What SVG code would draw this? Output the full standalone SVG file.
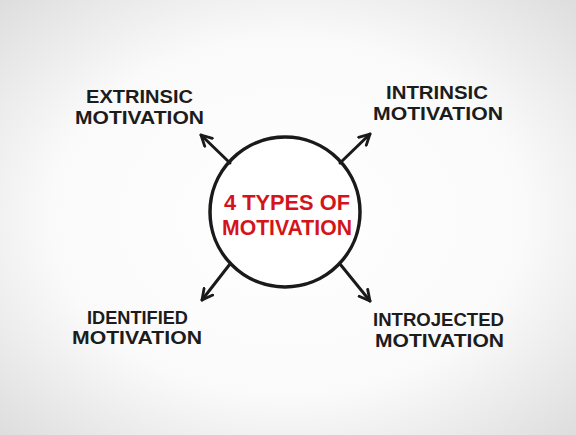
<svg xmlns="http://www.w3.org/2000/svg" width="576" height="435" viewBox="0 0 576 435">
<defs>
<radialGradient id="bg" cx="0.5" cy="0.5" r="0.75">
<stop offset="0" stop-color="#ffffff"/>
<stop offset="0.55" stop-color="#fafafa"/>
<stop offset="1" stop-color="#d9d9d9"/>
</radialGradient>
<marker id="ah" viewBox="0 0 14 14" refX="12" refY="7" markerWidth="14" markerHeight="14" markerUnits="userSpaceOnUse" orient="auto">
<path d="M1.5,1.5 L12,7 L1.5,12.5" fill="none" stroke="#1a1a1a" stroke-width="2.8" stroke-linecap="round" stroke-linejoin="round"/>
</marker>
<style>
.lbl{font-family:"Liberation Sans",Arial,sans-serif;font-weight:bold;font-size:18px;fill:#1c1c1c}
.ctr{font-family:"Liberation Sans",Arial,sans-serif;font-weight:bold;font-size:21.5px;fill:#d3151b}
.con{stroke:#1a1a1a;stroke-width:3;fill:none;stroke-linecap:round;marker-end:url(#ah)}
</style>
</defs>
<rect width="576" height="435" fill="url(#bg)"/>
<g id="center">
<circle cx="285" cy="212" r="75" fill="#ffffff" stroke="#1a1a1a" stroke-width="3.5"/>
<text class="ctr" x="224" y="210" textLength="126" lengthAdjust="spacingAndGlyphs">4 TYPES OF</text>
<text class="ctr" x="222" y="234.5" textLength="130" lengthAdjust="spacingAndGlyphs">MOTIVATION</text>
</g>
<g id="connectors">
<line class="con" x1="230" y1="163" x2="201" y2="135"/>
<line class="con" x1="340" y1="163" x2="370" y2="134"/>
<line class="con" x1="230" y1="264" x2="202" y2="300"/>
<line class="con" x1="340" y1="264" x2="370" y2="301"/>
</g>
<g id="extrinsic">
<text class="lbl" x="86" y="103" textLength="107" lengthAdjust="spacingAndGlyphs">EXTRINSIC</text>
<text class="lbl" x="75" y="123.5" textLength="129" lengthAdjust="spacingAndGlyphs">MOTIVATION</text>
</g>
<g id="intrinsic">
<text class="lbl" x="386" y="99" textLength="102" lengthAdjust="spacingAndGlyphs">INTRINSIC</text>
<text class="lbl" x="373" y="120" textLength="130" lengthAdjust="spacingAndGlyphs">MOTIVATION</text>
</g>
<g id="identified">
<text class="lbl" x="87" y="323.5" textLength="101" lengthAdjust="spacingAndGlyphs">IDENTIFIED</text>
<text class="lbl" x="72" y="344" textLength="130" lengthAdjust="spacingAndGlyphs">MOTIVATION</text>
</g>
<g id="introjected">
<text class="lbl" x="373" y="325.5" textLength="131" lengthAdjust="spacingAndGlyphs">INTROJECTED</text>
<text class="lbl" x="375" y="346.5" textLength="129" lengthAdjust="spacingAndGlyphs">MOTIVATION</text>
</g>
</svg>
